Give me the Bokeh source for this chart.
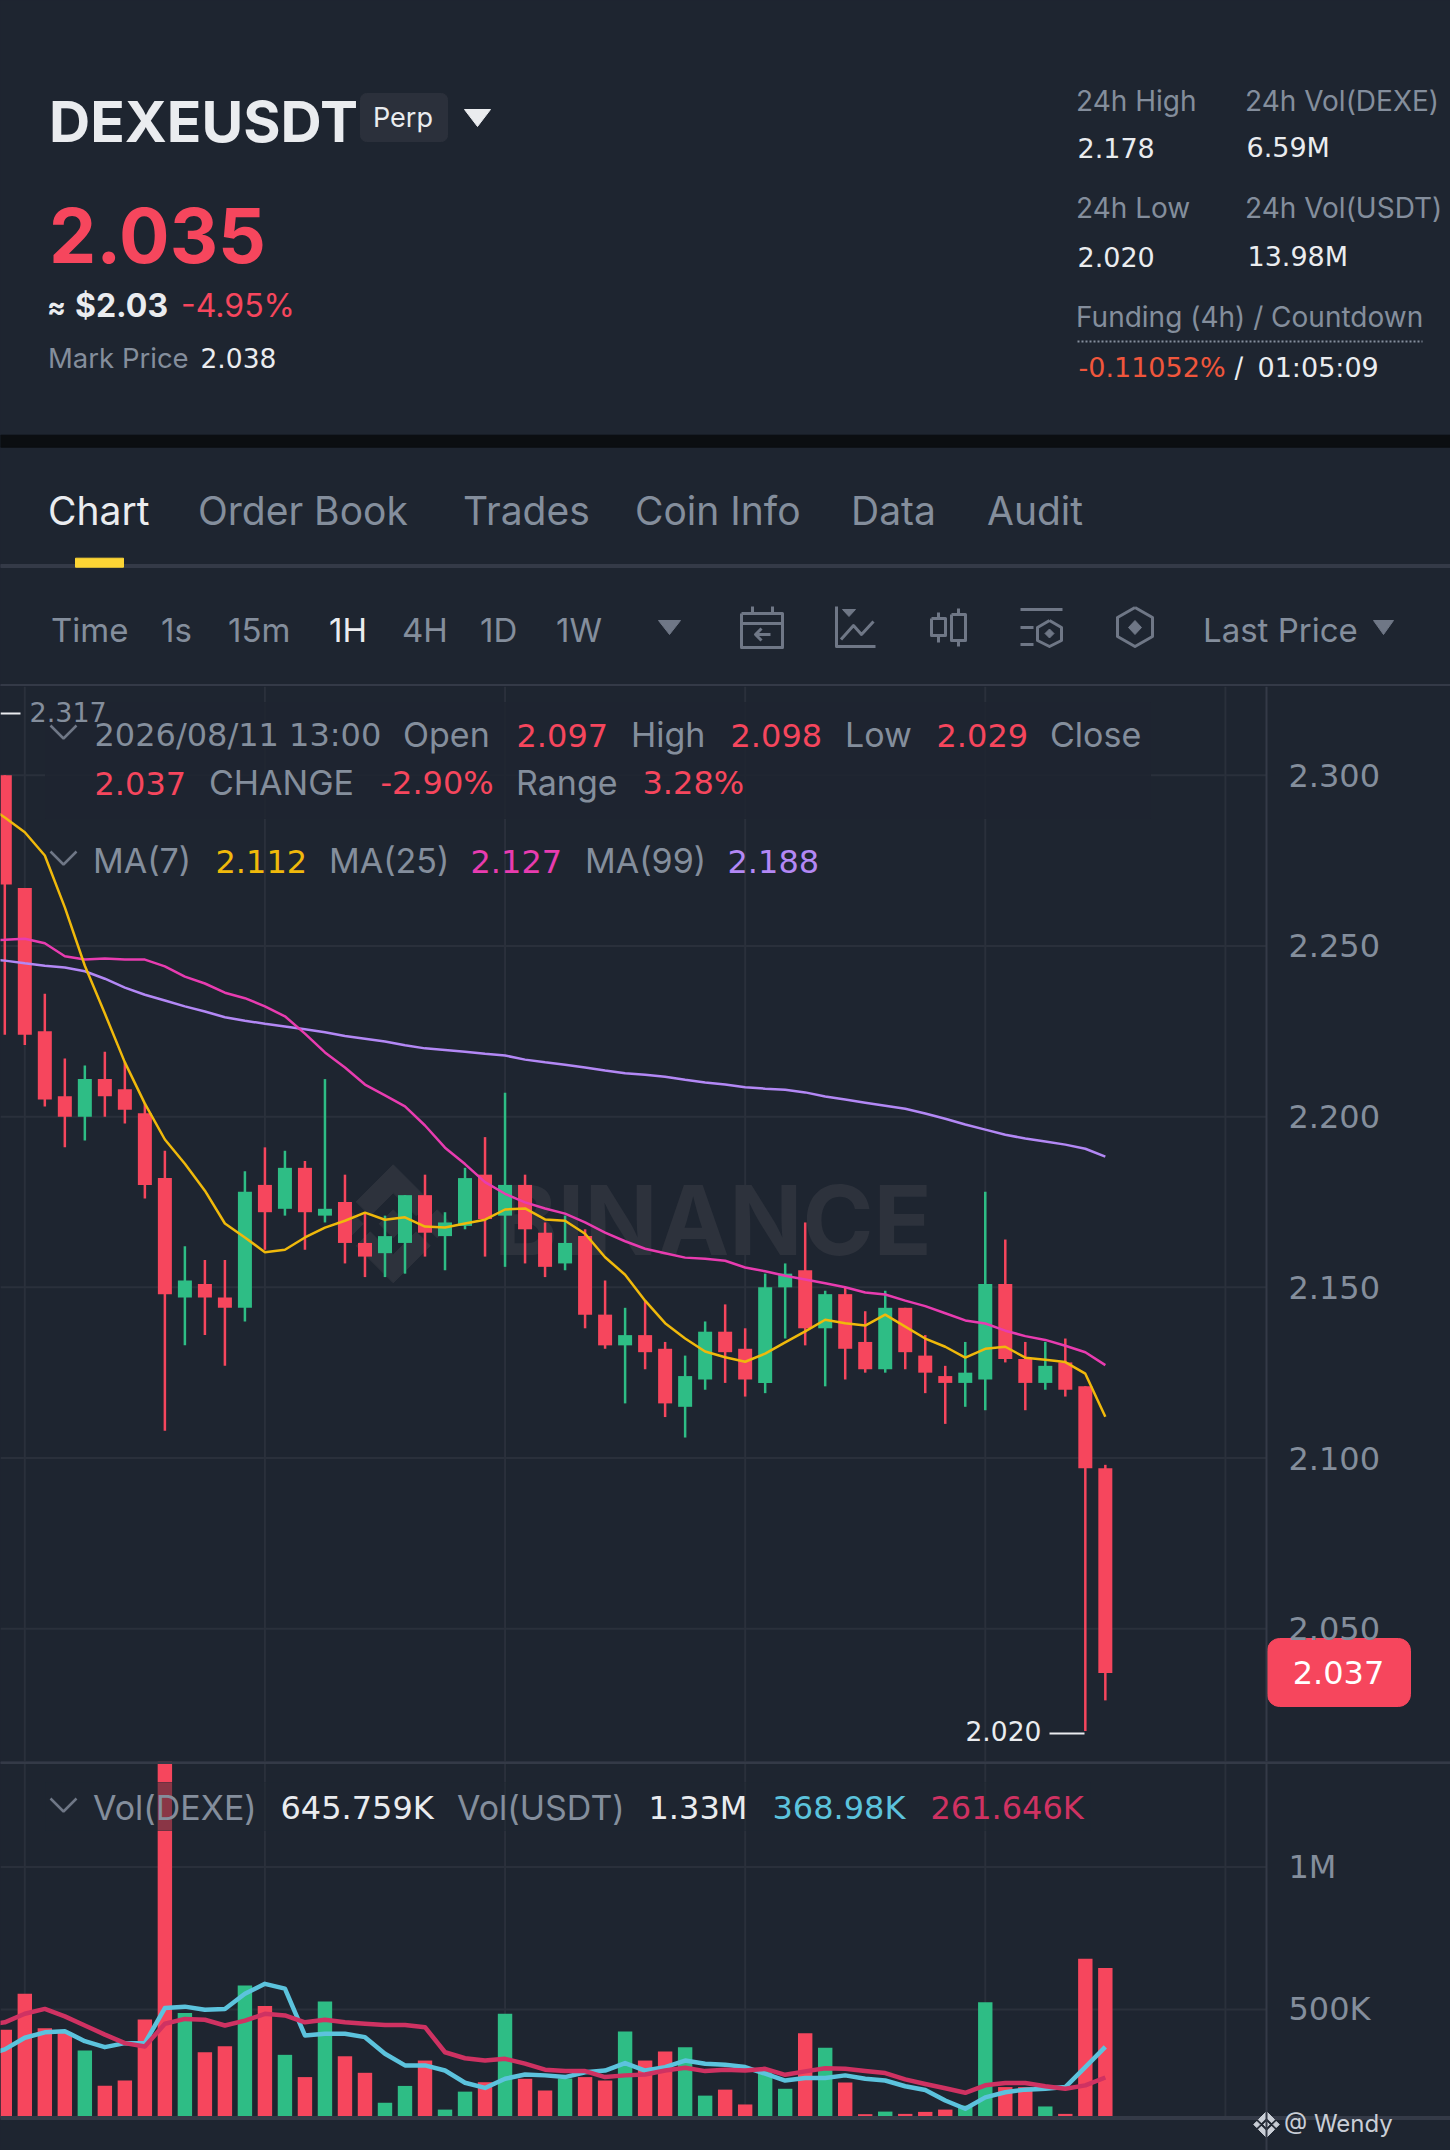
from bokeh.plotting import figure
from bokeh.layouts import column
from bokeh.models import Range1d, FixedTicker, ColumnDataSource
from bokeh.core.properties import value
from bokeh.embed import file_html
from bokeh.resources import INLINE

FONT = "Inter"
NUM = "DejaVu Sans"
BG = "#1e2530"
GRID = "#2a303b"
DIV = "#343a47"
GREY = "#848e9c"
ICON = "#6f7786"
WHITE = "#eaecef"
RED = "#f6465d"
GREEN = "#2ebd85"
YEL = "#f0b90b"
MAG = "#e83cb0"
PUR = "#b388f5"
CYAN = "#5cc3dd"
CRIM = "#cf3262"
BASE_K = 0.39  # offset of Bokeh's alphabetic text baseline, per px of font size

opens = [2.300,2.267,2.225,2.206,2.200,2.211,2.208,2.201,2.182,2.147,2.151,2.147,2.144,2.180,2.173,2.185,2.171,2.175,2.163,2.160,
         2.163,2.177,2.165,2.168,2.183,2.171,2.180,2.166,2.157,2.165,2.142,2.133,2.136,2.132,2.115,2.123,2.137,2.132,2.122,2.150,
         2.155,2.138,2.148,2.134,2.126,2.144,2.130,2.124,2.122,2.123,2.151,2.129,2.122,2.128,2.121,2.097]
highs = [2.300,2.267,2.236,2.217,2.215,2.219,2.216,2.204,2.190,2.162,2.158,2.158,2.184,2.191,2.190,2.187,2.211,2.183,2.172,2.171,
         2.177,2.183,2.172,2.185,2.194,2.207,2.183,2.169,2.171,2.167,2.152,2.144,2.146,2.134,2.130,2.140,2.145,2.138,2.154,2.157,
         2.169,2.149,2.150,2.143,2.149,2.144,2.136,2.127,2.134,2.178,2.164,2.134,2.134,2.135,2.121,2.098]
lows = [2.224,2.221,2.203,2.191,2.193,2.200,2.198,2.176,2.108,2.133,2.136,2.127,2.140,2.161,2.171,2.161,2.169,2.157,2.153,2.153,
        2.154,2.159,2.155,2.167,2.159,2.156,2.157,2.153,2.155,2.138,2.132,2.116,2.126,2.112,2.106,2.120,2.122,2.118,2.119,2.135,
        2.133,2.121,2.123,2.125,2.125,2.126,2.119,2.110,2.115,2.114,2.128,2.114,2.120,2.118,2.020,2.029]
closes = [2.268,2.224,2.205,2.200,2.211,2.206,2.202,2.180,2.148,2.152,2.147,2.144,2.178,2.172,2.185,2.172,2.173,2.163,2.159,2.165,
          2.177,2.166,2.169,2.182,2.170,2.180,2.167,2.156,2.163,2.142,2.133,2.136,2.131,2.116,2.124,2.137,2.131,2.123,2.150,2.154,
          2.138,2.148,2.132,2.126,2.144,2.131,2.125,2.122,2.125,2.151,2.129,2.122,2.127,2.120,2.097,2.037]
# the moving averages start one candle before the left edge of the view
ma7 = [2.2917,2.2876,2.2833,2.2765,2.2613,2.2442,2.2302,2.2159,2.2038,2.1933,2.1862,2.1783,2.1687,2.1646,2.1603,2.1610,2.1646,2.1675,2.1695,2.1719,2.1698,
       2.1705,2.1678,2.1675,2.1687,2.1698,2.1728,2.1731,2.1699,2.1695,2.1657,2.1588,2.1537,2.1461,2.1395,2.1350,2.1312,2.1295,2.1282,2.1306,2.1339,
       2.1371,2.1405,2.1395,2.1388,2.1420,2.1385,2.1350,2.1326,2.1294,2.1320,2.1326,2.1294,2.1288,2.1281,2.1247,2.1121]
ma25 = [2.2516,2.2518,2.2521,2.2508,2.2470,2.2460,2.2463,2.2460,2.2460,2.2440,2.2410,2.2390,2.2363,2.2347,2.2323,2.2294,2.2243,2.2188,2.2144,2.2094,2.2062,
        2.2030,2.1974,2.1909,2.1861,2.1808,2.1774,2.1749,2.1731,2.1716,2.1690,2.1660,2.1635,2.1613,2.1600,2.1587,2.1584,2.1578,2.1558,2.1547,2.1534,
        2.1523,2.1512,2.1500,2.1485,2.1479,2.1461,2.1445,2.1424,2.1403,2.1394,2.1373,2.1357,2.1346,2.1329,2.1310,2.1272]
ma99 = [2.2463,2.2457,2.2449,2.2442,2.2437,2.2426,2.2404,2.2378,2.2357,2.2340,2.2323,2.2308,2.2291,2.2281,2.2272,2.2264,2.2256,2.2247,2.2236,2.2228,2.2220,
        2.2209,2.2200,2.2195,2.2190,2.2184,2.2179,2.2167,2.2159,2.2152,2.2144,2.2135,2.2127,2.2123,2.2117,2.2108,2.2100,2.2094,2.2086,2.2082,2.2079,
        2.2071,2.2059,2.2050,2.2041,2.2032,2.2023,2.2009,2.1994,2.1977,2.1962,2.1947,2.1936,2.1927,2.1918,2.1906,2.1883]
# volumes, in thousands
volumes = [429,555,434,420,356,233,251,465,1376,488,350,371,584,512,341,263,528,336,278,173,
           232,321,149,212,245,485,257,216,258,263,251,423,321,353,368,198,219,167,286,222,
           417,366,244,133,142,134,141,149,163,525,228,228,160,134,678,645.759]
vol_ma5 = [339,360,401,420,424,389,368,382,382,505,510,499,502,555,590,573,409,415,415,403,345,
           304,304,286,243,225,257,272,269,263,280,286,312,286,298,321,310,306,298,275,251,
           260,260,269,257,251,231,218,181,152,192,210,219,222,228,298,368.98]
vol_ma10 = [444,455,485,502,476,444,412,382,370,450,467,464,444,461,485,479,455,464,455,450,446,
            446,438,350,329,321,327,310,289,284,284,263,269,272,286,296,284,289,286,292,271,
            283,294,292,284,277,255,239,224,208,234,242,242,231,222,234,261.646]
vol_floor = 121.3
price_ticks = [2.05, 2.10, 2.15, 2.20, 2.25, 2.30]
vol_ticks = [500, 1000]
vol_tick_labels = {500: "500K", 1000: "1M"}
time_grid = [1, 13, 25, 37, 49, 61]
x_start, x_axis_at, x_end = -0.215, 63.05, 72.25
price_low, price_high = 2.0111, 2.3260
vol_low, vol_high = 5.6, 1369.5

idx = list(range(len(closes)))
ma_idx = [-1] + idx
colors = [GREEN if c >= o else RED for o, c in zip(opens, closes)]


def txt(p, x, y, s, color=GREY, size=32, bold=False, align="left", font=FONT, **kw):
    p.text(x=[x - (1.5 if align == "left" and font == FONT else 0)], y=[y - BASE_K * size], text=[s],
           text_color=color, text_font=value(font), text_font_size=f"{size}px",
           text_font_style="bold" if bold else "normal", text_baseline="alphabetic", text_align=align, **kw)


def base(p):
    p.background_fill_color = BG
    p.border_fill_color = BG
    p.outline_line_color = None
    p.min_border_left = p.min_border_top = p.min_border_bottom = p.min_border_right = 0


def style_axis(ax, ticks):
    ax.ticker = FixedTicker(ticks=ticks)
    ax.fixed_location = x_axis_at
    ax.major_tick_line_color = None
    ax.minor_tick_line_color = None
    ax.axis_line_color = DIV
    ax.axis_line_width = 2
    ax.major_label_text_color = GREY
    ax.major_label_text_font = NUM
    ax.major_label_text_font_size = "32px"
    ax.major_label_standoff = 16


# ---------- header ----------
h = figure(width=1450, height=686, x_range=Range1d(0, 1450), y_range=Range1d(686, 0), output_backend="svg",
           toolbar_location=None, x_axis_location=None, y_axis_location=None)
base(h)
h.grid.visible = False
h.quad(left=[0], right=[1450], top=[434.7], bottom=[446.7], color="#0b0e11")
h.quad(left=[0], right=[1450], top=[564], bottom=[567], color=DIV)
h.quad(left=[75], right=[123], top=[557.7], bottom=[566.7], color="#fcd535")
h.quad(left=[0], right=[1450], top=[684], bottom=[686], color=DIV)
h.quad(left=[360], right=[447], top=[93], bottom=[141], color="#2b303b", border_radius=6)

txt(h, 50, 143, "DEXEUSDT", WHITE, 57, True)
txt(h, 374, 128, "Perp", WHITE, 27)
h.patch([464, 490, 477], [109, 109, 126], color=WHITE)
txt(h, 50, 264, "2.035", RED, 75, True)
txt(h, 48, 317, "≈", WHITE, 28, True)
txt(h, 76, 317, "$2.03", WHITE, 32, True)
txt(h, 182, 317, "-4.95%", RED, 32)
txt(h, 49, 368, "Mark Price", GREY, 27.5)
txt(h, 200, 368, "2.038", WHITE, 26.5, font=NUM)

txt(h, 1077, 111, "24h High", GREY, 28)
txt(h, 1246, 111, "24h Vol(DEXE)", GREY, 28)
txt(h, 1077, 158, "2.178", WHITE, 27, font=NUM)
txt(h, 1246, 158, "6.59M", WHITE, 27, font=NUM)
txt(h, 1077, 218, "24h Low", GREY, 28)
txt(h, 1246, 218, "24h Vol(USDT)", GREY, 28)
txt(h, 1077, 267, "2.020", WHITE, 27, font=NUM)
txt(h, 1247, 267, "13.98M", WHITE, 27, font=NUM)
txt(h, 1077, 327, "Funding (4h) / Countdown", GREY, 28)
h.line([1077, 1422], [341, 341], line_color=GREY, line_width=2, line_dash="2 2")
txt(h, 1078, 378, "-0.11052%", "#f0563c", 27, font=NUM)
txt(h, 1235, 378, "/", WHITE, 27)
txt(h, 1257, 378, "01:05:09", WHITE, 27, font=NUM)

for x, s, c in [(49, "Chart", WHITE), (199, "Order Book", GREY), (464, "Trades", GREY), (636, "Coin Info", GREY),
                (852, "Data", GREY), (988, "Audit", GREY)]:
    txt(h, x, 525, s, c, 39)
for x, s, c in [(52, "Time", GREY), (162, "1s", GREY), (229, "15m", GREY), (330, "1H", WHITE), (403, "4H", GREY),
                (481, "1D", GREY), (557, "1W", GREY), (1204, "Last Price", GREY)]:
    txt(h, x, 642, s, c, 33)
h.patch([658, 680, 669], [620, 620, 634], color=ICON)
h.patch([1373, 1393, 1383], [620, 620, 634], color=ICON)


def icon(xs, ys):
    h.line(xs, ys, line_color=ICON, line_width=3, line_join="round")


icon([741, 782, 782, 741, 741], [613, 613, 647, 647, 613])
icon([741, 782], [623, 623])
icon([752, 752], [606, 613])
icon([772, 772], [606, 613])
icon([755, 770], [634, 634])
icon([761, 755, 761], [628, 634, 640])
icon([836, 836, 875], [606, 646, 646])
h.patch([842, 855, 848.5], [609, 609, 616], color=ICON)
icon([840.5, 853, 861, 873], [639, 625, 634, 621])
icon([931, 945, 945, 931, 931], [618, 618, 635, 635, 618])
icon([938, 938], [612, 618])
icon([938, 938], [635, 642])
icon([951, 965, 965, 951, 951], [614, 614, 640, 640, 614])
icon([958, 958], [608, 614])
icon([958, 958], [640, 646])
icon([1020, 1062], [609, 609])
icon([1020, 1033], [627, 627])
icon([1020, 1033], [644, 644])
icon([1049, 1061, 1061, 1049, 1037, 1037, 1049], [620, 627, 640, 646, 640, 627, 620])
h.patch([1049, 1053.5, 1049, 1044.5], [628.5, 633, 637.5, 633], color=ICON)
icon([1134.5, 1152, 1152, 1134.5, 1117, 1117, 1134.5], [607, 617, 636, 646, 636, 617, 607])
h.patch([1134.5, 1141, 1134.5, 1128], [620, 627, 634, 627], color=ICON)

# ---------- price panel ----------
PX = dict(x_range_name="px", y_range_name="px")
p = figure(width=1450, height=1075, x_range=Range1d(x_start, x_end), y_range=Range1d(price_low, price_high),
           output_backend="svg", toolbar_location=None, x_axis_location=None, y_axis_location="right")
base(p)
p.grid.visible = False
p.extra_x_ranges["px"] = Range1d(0, 1450)
p.extra_y_ranges["px"] = Range1d(1761, 686)
style_axis(p.yaxis[0], price_ticks)
p.yaxis[0].major_label_overrides = {t: f"{t:.3f}" for t in price_ticks}
p.segment(x0=[x_start] * len(price_ticks), y0=price_ticks, x1=[x_axis_at] * len(price_ticks), y1=price_ticks,
          line_color=GRID, line_width=2)
p.segment(x0=time_grid, y0=[price_low] * 6, x1=time_grid, y1=[price_high] * 6, line_color=GRID, line_width=2)

# watermark
CHEVRONS = [
    [(0, -59), (37, -22), (23, -8), (0, -31), (-23, -8), (-37, -22)],
    [(0, 59), (37, 22), (23, 8), (0, 31), (-23, 8), (-37, 22)],
    [(0, -14), (14, 0), (0, 14), (-14, 0)],
    [(44, -14), (58, 0), (44, 14), (30, 0)],
    [(-44, -14), (-30, 0), (-44, 14), (-58, 0)],
]


def logo(fig, cx, cy, k, color):
    fig.patches([[cx + a * k for a, b in s] for s in CHEVRONS], [[cy + b * k for a, b in s] for s in CHEVRONS],
                color=color, **PX)


logo(p, 392.7, 1223.3, 1, "#2d323c")
txt(p, 495, 1257, "BINANCE", "#2d323c", 96, True, **PX)

src = ColumnDataSource(dict(i=idx, o=opens, h=highs, l=lows, c=closes, col=colors,
                            top=[max(a, b) for a, b in zip(opens, closes)],
                            bot=[min(a, b) for a, b in zip(opens, closes)]))
p.segment(x0="i", y0="l", x1="i", y1="h", source=src, line_color="col", line_width=2.5)
p.vbar(x="i", top="top", bottom="bot", width=0.7, source=src, fill_color="col", line_color=None)
p.line(ma_idx, ma99, line_color=PUR, line_width=2.5)
p.line(ma_idx, ma25, line_color=MAG, line_width=2.5)
p.line(ma_idx, ma7, line_color=YEL, line_width=2.5)

# legends
p.quad(left=[45], right=[1150], top=[702], bottom=[818], color=BG, alpha=0.85, **PX)
p.line([0, 20], [713, 713], line_color=WHITE, line_width=2, **PX)
txt(p, 29, 722, "2.317", GREY, 27, font=NUM, **PX)
p.line([50, 63, 76], [725, 738, 725], line_color=ICON, line_width=2.5, **PX)
p.line([50, 63, 76], [851, 864, 851], line_color=ICON, line_width=2.5, **PX)
for x, y, s, c in [(404, 747, "Open", GREY), (632, 747, "High", GREY), (846, 747, "Low", GREY), (1051, 747, "Close", GREY),
                   (210, 795, "CHANGE", GREY), (517, 795, "Range", GREY),
                   (94, 873, "MA(7)", GREY), (330, 873, "MA(25)", GREY), (586, 873, "MA(99)", GREY)]:
    txt(p, x, y, s, c, 34, **PX)
for x, y, s, c in [(94, 747, "2026/08/11 13:00", GREY), (516, 747, "2.097", RED), (730, 747, "2.098", RED), (936, 747, "2.029", RED),
                   (94, 795, "2.037", RED), (380, 795, "-2.90%", RED), (642, 795, "3.28%", RED),
                   (215, 873, "2.112", YEL), (470, 873, "2.127", MAG), (727, 873, "2.188", PUR)]:
    txt(p, x, y, s, c, 32, font=NUM, **PX)
p.line([1049, 1084], [1733, 1733], line_color=WHITE, line_width=2, **PX)
txt(p, 965, 1741, "2.020", WHITE, 26.5, font=NUM, **PX)
p.quad(left=[1267], right=[1410], top=[1638], bottom=[1706], color=RED, border_radius=12, **PX)
txt(p, 1338, 1684, "2.037", "#ffffff", 32, align="center", font=NUM, **PX)

# ---------- volume panel ----------
v = figure(width=1450, height=389, x_range=Range1d(x_start, x_end), y_range=Range1d(vol_low, vol_high),
           output_backend="svg", toolbar_location=None, x_axis_location=None, y_axis_location="right")
base(v)
v.grid.visible = False
v.extra_x_ranges["px"] = Range1d(0, 1450)
v.extra_y_ranges["px"] = Range1d(2150, 1761)
style_axis(v.yaxis[0], vol_ticks)
v.yaxis[0].major_label_overrides = vol_tick_labels
v.segment(x0=[x_start] * 2, y0=vol_ticks, x1=[x_axis_at] * 2, y1=vol_ticks, line_color=GRID, line_width=2)
v.segment(x0=time_grid, y0=[vol_floor] * 6, x1=time_grid, y1=[vol_high] * 6, line_color=GRID, line_width=2)
v.vbar(x=idx, top=volumes, bottom=vol_floor, width=0.72, fill_color=colors, line_color=None)
v.line(ma_idx, vol_ma5, line_color=CYAN, line_width=4.5, line_join="round")
v.line(ma_idx, vol_ma10, line_color=CRIM, line_width=4.5, line_join="round")
v.quad(left=[45], right=[1090], top=[1782], bottom=[1830], color=BG, alpha=0.5, **PX)
v.line([50, 63, 76], [1798, 1811, 1798], line_color=ICON, line_width=2.5, **PX)
txt(v, 94, 1820, "Vol(DEXE)", GREY, 34, **PX)
txt(v, 458, 1820, "Vol(USDT)", GREY, 34, **PX)
for x, s, c in [(280, "645.759K", WHITE), (648, "1.33M", WHITE), (772, "368.98K", CYAN), (930, "261.646K", CRIM)]:
    txt(v, x, 1820, s, c, 32, font=NUM, **PX)
v.quad(left=[0], right=[1450], top=[1761], bottom=[1763], color=DIV, **PX)
v.quad(left=[0], right=[1450], top=[2116], bottom=[2119], color=DIV, **PX)
logo(v, 1266, 2124, 0.22, "#c9ced6")
txt(v, 1285, 2132, "@ Wendy", "#c9ced6", 24, **PX)

page = column(h, p, v, spacing=0)
css = "<style>html,body{margin:0;padding:0;background:" + BG + ";overflow:hidden}</style></head>"
open("out.html", "w").write(file_html(page, INLINE).replace("</head>", css, 1))
